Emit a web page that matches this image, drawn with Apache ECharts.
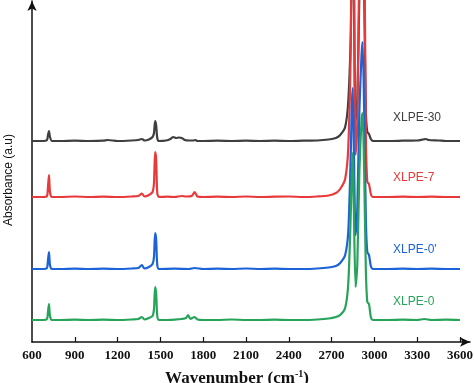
<!DOCTYPE html>
<html><head><meta charset="utf-8">
<script src="https://cdn.jsdelivr.net/npm/echarts@6/dist/echarts.min.js"></script>
<style>html,body{margin:0;padding:0;background:#fff}#c{width:474px;height:383px}</style>
</head><body><div id="c"></div>
<script>
const xTicks = [600, 900, 1200, 1500, 1800, 2100, 2400, 2700, 3000, 3300, 3600];
const seriesNames = ['XLPE-30', 'XLPE-7', "XLPE-0'", 'XLPE-0'];
const offsets = [201, 145, 73, 22];

const wnBlack = [600,680,705,712,719,726,740,800,900,1000,1100,1130,1200,1300,1345,1370,1390,1420,1445,1455,1463,1470,1478,1490,1540,1570,1590,1610,1630,1650,1670,1700,1730,1745,1760,1800,1900,2000,2100,2200,2300,2400,2500,2600,2680,2730,2760,2795,2817,2835,2842,2848,2856,2868,2880,2895,2910,2917,2928,2940,2950,2962,2975,2990,3100,3200,3300,3340,3360,3380,3450,3500,3600];
const abBlack = [0,0,1,6,10,4,0,0,0.4,0,0.3,1,0,0.5,1,2,0.5,1.5,4,8,20,16,3,0,0.5,2,4,3,3.5,3,1,0.5,0.5,1,0,0,0.3,0,0.3,0,0.3,0,0.3,0.5,1.5,3,6,14,40,110,190,230,150,20,40,150,240,260,150,30,9,7,2,0,0,0.3,0.5,1.5,2,1,0.5,0,0];

const wnRed = [600,680,705,712,719,726,740,800,900,1000,1100,1200,1300,1345,1370,1388,1420,1445,1455,1463,1470,1478,1490,1550,1600,1650,1680,1720,1740,1760,1800,1900,2000,2100,2200,2300,2400,2500,2600,2680,2730,2760,2795,2817,2835,2842,2848,2856,2868,2880,2895,2910,2917,2928,2940,2950,2962,2975,2990,3100,3200,3300,3400,3500,3600];
const abRed = [0,0,1,10,22,5,0,0,0.5,0,0.4,0,0.5,1,3.5,0.5,2,5,14,45,38,4,0,0.3,0,1,0.5,1,5,0.5,0,0.3,0,0.5,0,0.3,0.5,0,0.5,1.5,4,8,18,50,160,330,420,260,42,70,250,400,440,300,60,15,13,3,0,0,0.3,0,0.3,0,0];

const wnBlue = [600,680,705,712,719,726,740,800,900,1000,1100,1200,1300,1345,1370,1388,1420,1445,1455,1463,1470,1478,1490,1600,1700,1740,1800,1900,2000,2100,2200,2300,2400,2500,2600,2680,2730,2760,2795,2817,2835,2842,2848,2856,2868,2880,2895,2910,2917,2928,2940,2950,2962,2975,2990,3100,3200,3300,3400,3500,3600];
const abBlue = [0,0,1,9,17,4,0,0,0.4,0,0.3,0,0.5,1,4,0.5,2,5,12,36,30,4,0,0.3,0,1,0,0.3,0,0.5,0,0.3,0,0,0.5,1.5,3,6,14,38,120,165,181,120,34,60,160,215,227,160,50,17,14,3,0,0,0.3,0,0.3,0,0];

const wnGreen = [600,680,705,712,719,726,740,800,900,1000,1100,1200,1300,1345,1370,1388,1420,1445,1455,1463,1470,1478,1490,1550,1600,1650,1680,1695,1710,1740,1760,1800,1900,2000,2100,2200,2300,2400,2500,2600,2680,2730,2760,2795,2817,2835,2842,2848,2856,2868,2880,2895,2910,2917,2928,2940,2950,2962,2975,2990,3100,3200,3300,3350,3400,3500,3600];
const abGreen = [0,0,1,8,16,4,0,0,0.3,0,0.3,0,0.5,1,3,0.5,2,4,11,33,27,4,0,0,0.3,1,2,5,1,3,0.5,0,0,0.5,0,0,0.3,0,0,0.5,1.5,3,5,12,37,110,150,167,110,33,55,150,200,207,150,50,18,16,3,0,0,0.3,0,1,0,0.3,0];

const colors = ['#3f3f3f', '#e83a3b', '#1c63d8', '#28a35a'];
const wns = [wnBlack, wnRed, wnBlue, wnGreen];
const abs = [abBlack, abRed, abBlue, abGreen];

const chart = echarts.init(document.getElementById('c'), null, {renderer: 'canvas'});
const serif = '"Liberation Serif", "DejaVu Serif", serif';
const series = seriesNames.map((n, i) => ({
  name: n, type: 'line', showSymbol: false, symbol: 'none', smooth: 0.25,
  data: wns[i].map((x, k) => [x, abs[i][k] + offsets[i]]),
  lineStyle: {color: colors[i], width: 2.2}, itemStyle: {color: colors[i]},
  z: 2 + i, clip: true
}));
const labelY = [122, 182, 254, 306];
const tickFont = {fontFamily: serif, fontSize: 13, fontWeight: 'bold', color: '#111', margin: 7, hideOverlap: false};
const labelAxis = (vals, showMin) => ({
  type: 'value', min: 600, max: 3670, interval: 300, position: 'bottom',
  axisLine: {show: false}, axisTick: {show: false}, splitLine: {show: false},
  axisLabel: Object.assign({}, tickFont, {showMinLabel: showMin, showMaxLabel: false,
    formatter: v => (vals.indexOf(v) >= 0 ? String(v) : '')})
});
chart.setOption({
  animation: false,
  backgroundColor: '#fff',
  grid: {left: 32, right: 4, top: 1, bottom: 41, containLabel: false, outerBoundsMode: 'none'},
  xAxis: [{
    type: 'value', min: 600, max: 3670, interval: 300,
    name: 'Wavenumber (cm{sup|-1})', nameLocation: 'middle', nameGap: 27,
    nameTextStyle: {fontFamily: serif, fontSize: 17, fontWeight: 'bold', color: '#111', padding: [0, 28, 0, 0],
      rich: {sup: {fontFamily: serif, fontSize: 10, fontWeight: 'bold', verticalAlign: 'top', padding: [0, 0, 9, 0], color: '#111'}}},
    axisLine: {lineStyle: {color: '#111', width: 1.5}, symbol: ['none', 'arrow'], symbolSize: [7, 10]},
    axisTick: {inside: true, length: 5, lineStyle: {color: '#111', width: 1.2}, customValues: xTicks},
    axisLabel: Object.assign({}, tickFont, {showMinLabel: false, showMaxLabel: false,
      formatter: v => (xTicks.indexOf(v) >= 2 ? String(v) : '')}),
    splitLine: {show: false}
  }, labelAxis([xTicks[0]], true)],
  yAxis: {
    type: 'value', min: 0, max: 341,
    axisLine: {show: true, lineStyle: {color: '#111', width: 1.5}, symbol: ['none', 'arrow'], symbolSize: [7, 10]},
    axisTick: {show: false}, axisLabel: {show: false}, splitLine: {show: false}
  },
  graphic: seriesNames.map((n, i) => ({
    type: 'text', left: 393, top: labelY[i] - 10,
    style: {text: n, fill: colors[i], font: (i === 3 ? 'normal ' : 'bold ') + '18px ' + serif}
  })).concat([{
    type: 'text', x: 9, y: 180, rotation: Math.PI / 2,
    style: {text: 'Absorbance (a.u)', fill: '#111', font: 'bold 17px ' + serif, align: 'center', verticalAlign: 'middle'}
  }]),
  series: series
});
// second tick label placed through the axis scale (the axis itself drops it)
const p900 = chart.convertToPixel({xAxisIndex: 0, yAxisIndex: 0}, [xTicks[1], 0]);
chart.setOption({
  graphic: seriesNames.map(() => ({})).concat([{}, {
    type: 'text', x: p900[0], y: p900[1] + 7,
    style: {text: String(xTicks[1]), fill: '#111', font: 'bold 13px ' + serif, align: 'center', verticalAlign: 'top'}
  }])
});
</script></body></html>
